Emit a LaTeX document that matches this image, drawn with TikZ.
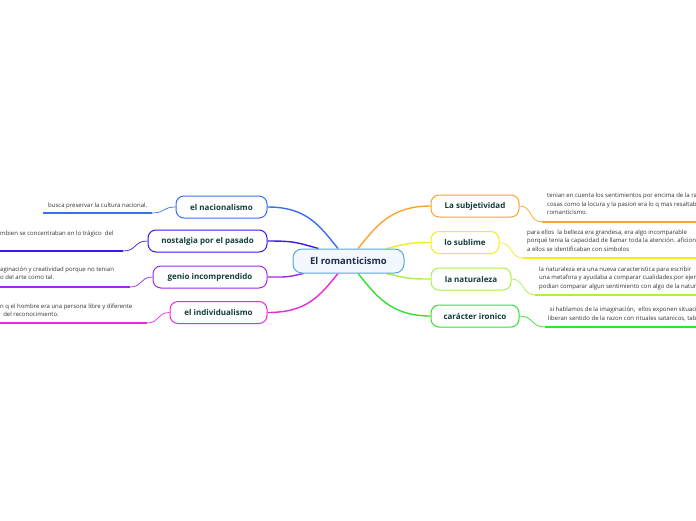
\documentclass[tikz,border=0pt]{standalone}
\usepackage{fontspec}
\setmainfont{Open Sans}
\pgfdeclarelayer{background}
\pgfsetlayers{background,main}
\definecolor{cnac}{HTML}{3A6EF0}
\definecolor{cnos}{HTML}{3A1AE8}
\definecolor{cgen}{HTML}{A028EB}
\definecolor{cind}{HTML}{EB28E1}
\definecolor{csub}{HTML}{F8A532}
\definecolor{csubl}{HTML}{EEEE1E}
\definecolor{cnat}{HTML}{AAF046}
\definecolor{ciro}{HTML}{32E132}
\definecolor{ccen}{HTML}{5AA5DC}
\definecolor{ccenfill}{HTML}{F2F8FD}
\definecolor{tnode}{HTML}{143C3C}
\definecolor{tcen}{HTML}{1E2D50}
\definecolor{tleaf}{HTML}{333333}
\tikzset{
  x=1pt, y=-1pt,
  topic/.style={draw=#1, line width=1pt, fill=white, rounded corners=8pt,
    minimum height=22pt, inner sep=0pt, text=tnode,
    font=\fontsize{8}{9}\selectfont\bfseries},
  central/.style={draw=ccen, line width=1pt, fill=ccenfill, rounded corners=9pt,
    minimum height=24pt, minimum width=111pt, inner sep=0pt, text=tcen,
    font=\fontsize{9.5}{10}\selectfont\bfseries},
  leaf/.style={anchor=north west, align=left, inner sep=0pt, text=tleaf,
    font=\fontsize{6}{8.5}\selectfont},
  branch/.style={draw=#1, line width=1.4pt},
  twig/.style={draw=#1, line width=0.7pt},
  uline/.style={draw=#1, line width=1.5pt},
}
\begin{document}
\begin{tikzpicture}
\useasboundingbox (0,0) rectangle (696,520);
\clip (0,0) rectangle (696,520);

% central
\node[central] (c) at (348.5,261) {El romanticismo};

% left topics
\node[topic=cnac, minimum width=91pt] (nac) at (221.5,207) {el nacionalismo};
\node[topic=cnos, minimum width=119pt] (nos) at (207.5,241) {nostalgia por el pasado};
\node[topic=cgen, minimum width=114pt] (gen) at (210,277) {genio incomprendido};
\node[topic=cind, minimum width=97pt] (ind) at (218.5,312.5) {el individualismo};

% right topics
\node[topic=csub, minimum width=88pt] (sub) at (475,206) {La subjetividad};
\node[topic=csubl, minimum width=68pt] (subl) at (465,242.5) {lo sublime};
\node[topic=cnat, minimum width=80pt] (nat) at (471,279) {la naturaleza};
\node[topic=ciro, minimum width=88pt] (iro) at (475,316) {carácter ironico};

% leaf texts (cut at the picture's edges as in the original)
\node[leaf] (tnac) at (48,202.5) {busca preservar la cultura nacional.};
\node[leaf] (tnos) at (0,230.5) {mbien se concentraban en lo trágico\ \ del};
\node[leaf] (tgen) at (0,266.5) {aginación y creatividad porque no tenian\\o del arte como tal.};
\node[leaf] (tind) at (0,303.5) {n q el hombre era una persona libre y diferente\\\ \ del reconocimiento.};
\node[leaf] (tsub) at (547,193) {tenian en cuenta los sentimientos por encima de la ra\\cosas como la locura y la pasion era lo q mas resaltab\\romanticismo.};
\node[leaf] (tsubl) at (527,229.5) {para ellos\ \ la belleza era grandesa, era algo incomparable\\porqué tenia la capacidad de llamar toda la atención. aficiona\\a ellos se identificaban con simbolos};
\node[leaf] (tnat) at (539,266.5) {la naturaleza era una nueva caracteristica para escribir\\una metafora y ayudaba a comparar cualidades.por ejem\\podian comparar algun sentimiento con algo de la natur};
\node[leaf] (tiro) at (548,307) {\ si hablamos de la imaginación,\ \ ellos exponen situaci\\liberan sentido de la razon con rituales satanicos, tab};

% underline end points
\coordinate (nacA) at (152,213); \coordinate (nacB) at (43,213);
\coordinate (nosA) at (123,251); \coordinate (nosB) at (-2,251);
\coordinate (genA) at (130,287); \coordinate (genB) at (-2,287);
\coordinate (indA) at (147,323); \coordinate (indB) at (-2,323);
\coordinate (subA) at (542,222); \coordinate (subB) at (698,222);
\coordinate (sublA) at (523,258); \coordinate (sublB) at (698,258);
\coordinate (natA) at (535,295); \coordinate (natB) at (698,295);
\coordinate (iroA) at (545,327); \coordinate (iroB) at (698,327);

\begin{pgfonlayer}{background}
\fill[white] (0,0) rectangle (696,520);
% main branches
\draw[branch=cnac] (nac.east) .. controls +(40,0) and +(-18,-22) .. ([xshift=-10.5pt]c.north);
\draw[branch=cnos] (nos.east) .. controls +(28,0) and +(-22,-6) .. ([xshift=-30pt]c.north);
\draw[branch=cgen] (gen.east) .. controls +(20,0) and +(-18,4) .. ([xshift=-45pt]c.south);
\draw[branch=cind] (ind.east) .. controls +(40,0) and +(-18,22) .. ([xshift=-10.5pt]c.south);
\draw[branch=csub] (sub.west) .. controls +(-40,0) and +(18,-22) .. ([xshift=9.5pt]c.north);
\draw[branch=csubl] (subl.west) .. controls +(-22,0) and +(22,-5) .. ([xshift=38pt]c.north);
\draw[branch=cnat] (nat.west) .. controls +(-22,0) and +(22,5) .. ([xshift=38pt]c.south);
\draw[branch=ciro] (iro.west) .. controls +(-40,0) and +(18,22) .. ([xshift=9.5pt]c.south);
\end{pgfonlayer}

% twigs and underlines
\draw[twig=cnac] (nac.west) .. controls +(-13,0) and +(13,0) .. (nacA);
\draw[uline=cnac] (nacA) -- (nacB);
\draw[twig=cnos] (nos.west) .. controls +(-14,0) and +(14,0) .. (nosA);
\draw[uline=cnos] (nosA) -- (nosB);
\draw[twig=cgen] (gen.west) .. controls +(-13,0) and +(13,0) .. (genA);
\draw[uline=cgen] (genA) -- (genB);
\draw[twig=cind] (ind.west) .. controls +(-13,0) and +(13,0) .. (indA);
\draw[uline=cind] (indA) -- (indB);
\draw[twig=csub] (sub.east) .. controls +(13,0) and +(-13,0) .. (subA);
\draw[uline=csub] (subA) -- (subB);
\draw[twig=csubl] (subl.east) .. controls +(13,0) and +(-13,0) .. (sublA);
\draw[uline=csubl] (sublA) -- (sublB);
\draw[twig=cnat] (nat.east) .. controls +(13,0) and +(-13,0) .. (natA);
\draw[uline=cnat] (natA) -- (natB);
\draw[twig=ciro] (iro.east) .. controls +(14,0) and +(-14,0) .. (iroA);
\draw[uline=ciro] (iroA) -- (iroB);
\end{tikzpicture}
\end{document}
